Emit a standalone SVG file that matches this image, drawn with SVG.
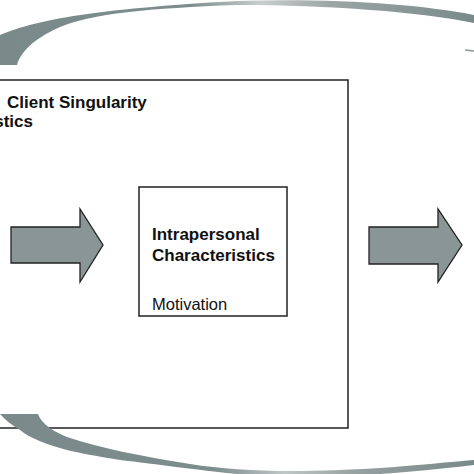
<svg xmlns="http://www.w3.org/2000/svg" width="474" height="474" viewBox="0 0 474 474">
<defs>
<linearGradient id="ringTop" x1="0" y1="0" x2="474" y2="0" gradientUnits="userSpaceOnUse">
<stop offset="0" stop-color="#7a8a8a"/>
<stop offset="0.4" stop-color="#7d8c8c"/>
<stop offset="0.55" stop-color="#c8cecd"/>
<stop offset="0.7" stop-color="#9aa5a4"/>
<stop offset="1" stop-color="#7a8a8a"/>
</linearGradient>
<linearGradient id="ringBot" x1="0" y1="0" x2="474" y2="0" gradientUnits="userSpaceOnUse">
<stop offset="0" stop-color="#7a8a8a"/>
<stop offset="0.45" stop-color="#7d8c8c"/>
<stop offset="0.6" stop-color="#c0c7c6"/>
<stop offset="0.75" stop-color="#96a1a0"/>
<stop offset="1" stop-color="#7a8a8a"/>
</linearGradient>
<style>
.box{fill:#fff;stroke:#222;stroke-width:1.5}
.arrow{fill:#8a9695;stroke:#222;stroke-width:1.3;stroke-linejoin:miter}
.b{font-family:"Liberation Sans",Arial,sans-serif;font-weight:bold;font-size:17px;fill:#111}
.r{font-family:"Liberation Sans",Arial,sans-serif;font-size:16.5px;fill:#111}
</style>
</defs>
<rect width="474" height="474" fill="#fff"/>
<g id="outer-box">
<rect class="box" x="-10" y="80" width="358" height="348"/>
<text class="b" x="7" y="108">Client Singularity</text>
<text class="b" x="33" y="127" text-anchor="end">stics</text>
</g>
<g id="ring">
<path d="M0,35 C40,18 110,8 237,1 C330,-2 420,4 474,15 L474,23 C420,12 330,5 237,5 C150,8 90,14 60,27 C40,36 22,48 17,65 L0,65 Z" fill="url(#ringTop)"/>
<path d="M465,50 L474,51" stroke="#8a9695" stroke-width="1.5"/>
<path d="M0,414 L38,414 C42,425 55,432 67,437 C100,448 140,456 190,464 C240,472 300,473 380,468 C420,465 450,462 474,460 L474,465 C440,469 410,472 380,474 C330,477 270,476 237,474 C180,468 140,462 120,460 C95,456 80,453 67,450 C45,444 30,438 20,430 C12,425 5,420 0,414 Z" fill="url(#ringBot)"/>
</g>
<g id="connectors">
<polygon class="arrow" points="11,227 80,227 80,209 103,245 80,282 80,263 11,263"/>
<polygon class="arrow" points="369,227 438,227 438,209 462,245 438,282 438,264 369,264"/>
</g>
<g id="intrapersonal">
<rect class="box" x="139" y="187" width="148" height="129"/>
<text class="b" x="152" y="240">Intrapersonal</text>
<text class="b" x="152" y="261">Characteristics</text>
<text class="r" x="152" y="310">Motivation</text>
</g>
</svg>
